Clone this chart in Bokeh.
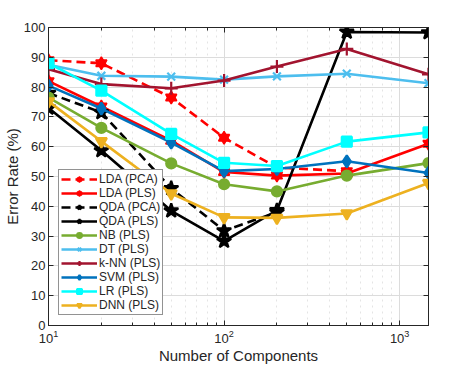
from bokeh.plotting import figure
from bokeh.models import (Legend, LegendItem, LogAxis, LinearAxis, FixedTicker,
                          Range1d, LogTicker)
from bokeh.embed import file_html
from bokeh.resources import INLINE

components = [10, 20, 50, 100, 200, 500, 1460]
lda_pca = [89, 88, 76.5, 63, 53, 51.8]
lda_pls = [82, 73.5, 62, 51.5, 50.3, 51, 61]
qda_pca = [78, 71.5, 46, 31.8, 38]
qda_pls = [73, 58.7, 38.5, 28.3, 38.6, 98.5, 98.3]
nb_pls = [76.5, 66.3, 54.4, 47.4, 45, 50.3, 54.5]
dt_pls = [87.5, 83.8, 83.5, 82.5, 83.6, 84.5, 81.3]
knn_pls = [86, 81, 79.6, 82.2, 86.9, 92.8, 84.3]
svm_pls = [80.5, 72.8, 61.4, 51.8, 52.5, 55.1, 51.2]
lr_pls = [88, 78.8, 64.3, 54.6, 53.5, 61.7, 64.8]
dnn_pls = [75.2, 61.8, 44.3, 36.3, 36.1, 37.6, 47.8]
y_ticks = [0, 10, 20, 30, 40, 50, 60, 70, 80, 90, 100]

FONT = "Liberation Sans"
AX = "#262626"

p = figure(frame_width=380, frame_height=298, x_axis_type="log",
           x_range=Range1d(10, 1460), y_range=Range1d(0, 100),
           output_backend="svg", toolbar_location=None,
           min_border_left=40, min_border_right=26, min_border_top=27,
           min_border_bottom=30)
p.background_fill_color = "white"
p.border_fill_color = "white"
p.outline_line_color = AX
p.outline_line_width = 1

bottom = p.xaxis[0]
left = p.yaxis[0]

# grids
p.xgrid.grid_line_color = "#DCDCDC"
p.xgrid.minor_grid_line_color = "#E4E4E4"
p.xgrid.minor_grid_line_dash = "dotted"
p.ygrid.grid_line_color = "#DCDCDC"
left.ticker = FixedTicker(ticks=y_ticks)

right = LinearAxis(ticker=FixedTicker(ticks=y_ticks))
right.major_label_text_color = None
right.major_label_standoff = 0
p.add_layout(right, "right")
top = LogAxis(ticker=LogTicker())
top.major_label_text_color = None
top.major_label_standoff = 0
p.add_layout(top, "above")

for ax in [bottom, left, right, top]:
    ax.major_tick_in = 5
    ax.major_tick_out = 0
    ax.minor_tick_in = 3
    ax.minor_tick_out = 0
    ax.axis_line_color = AX
    ax.major_tick_line_color = AX
    ax.minor_tick_line_color = AX
    ax.major_label_text_font = FONT
    ax.axis_label_text_font = FONT
    ax.axis_label_text_color = AX
    ax.axis_label_text_font_style = "normal"
for ax in [left, right]:
    ax.minor_tick_line_color = None
for ax in [bottom, left]:
    ax.major_label_text_color = AX
    ax.major_label_text_font_size = "13px"
    ax.axis_label_text_font_size = "15px"
left.major_label_standoff = 3
left.axis_label_standoff = 0
bottom.major_label_standoff = 4
bottom.axis_label_standoff = 1
bottom.axis_label = "Number of Components"
left.axis_label = "Error Rate (%)"

LW = 2.6
items = []

def series(xs, ys, color, dash, label, marker, size, fill=True):
    r_line = p.line(xs, ys, line_color=color, line_width=LW, line_dash=dash)
    rs = [r_line]
    if marker == "hexagram":
        for m in ["triangle", "inverted_triangle"]:
            rs.append(p.scatter(xs, ys, marker=m, size=size, line_color=color,
                                fill_color=color, line_width=1.5))
    else:
        rs.append(p.scatter(xs, ys, marker=marker, size=size, line_color=color,
                            fill_color=color if fill else None, line_width=2.2))
    items.append(LegendItem(label=label, renderers=rs))

n = len(lda_pca)
series(components[:n], lda_pca, "#FF0000", "9 5", "LDA (PCA)", "hexagram", 11)
series(components, lda_pls, "#FF0000", "solid", "LDA (PLS)", "hexagram", 11)
n = len(qda_pca)
series(components[:n], qda_pca, "#000000", "9 5", "QDA (PCA)", "star", 15)
series(components, qda_pls, "#000000", "solid", "QDA (PLS)", "star", 15)
series(components, nb_pls, "#77AC30", "solid", "NB (PLS)", "circle", 10)
series(components, dt_pls, "#4DBEEE", "solid", "DT (PLS)", "x", 11, fill=False)
series(components, knn_pls, "#A2142F", "solid", "k-NN (PLS)", "cross", 13, fill=False)
series(components, svm_pls, "#0072BD", "solid", "SVM (PLS)", "diamond", 12)
series(components, lr_pls, "#00FFFF", "solid", "LR (PLS)", "square", 10)
series(components, dnn_pls, "#EDB120", "solid", "DNN (PLS)", "inverted_triangle", 11)

legend = Legend(items=items, location=(10, 10))
legend.label_text_font = FONT
legend.label_text_font_size = "12px"
legend.label_text_color = AX
legend.glyph_width = 36
legend.glyph_height = 12
legend.label_height = 12
legend.label_standoff = 2
legend.spacing = 0
legend.padding = 2
legend.margin = 0
legend.border_line_color = AX
legend.border_line_width = 1
legend.background_fill_color = "white"
legend.background_fill_alpha = 1
p.add_layout(legend)

open("out.html", "w").write(file_html(p, INLINE))
